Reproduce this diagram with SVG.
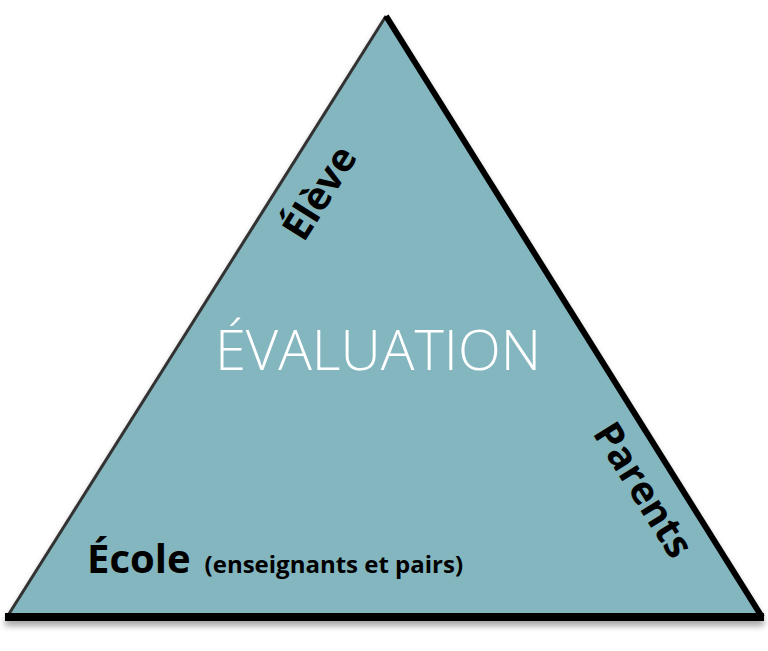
<svg xmlns="http://www.w3.org/2000/svg" width="768" height="651" viewBox="0 0 768 651">
<defs>
<filter id="sh" x="-5%" y="-5%" width="110%" height="115%"><feGaussianBlur in="SourceAlpha" stdDeviation="3"/><feOffset dx="0" dy="5"/><feComponentTransfer><feFuncA type="linear" slope="0.35"/></feComponentTransfer><feMerge><feMergeNode/><feMergeNode in="SourceGraphic"/></feMerge></filter>
</defs>
<style>
.lbl{font-family:"Open Sans","Noto Sans","DejaVu Sans",sans-serif;font-weight:bold;fill:#000}
.main{font-family:"Open Sans","Noto Sans",sans-serif;font-weight:300;fill:#fff}
</style>
<rect width="768" height="651" fill="#fff"/>
<g id="triangle" filter="url(#sh)">
<polygon points="386,16 7,617 762,617" fill="#84b6bf"/>
<line x1="386" y1="16" x2="7" y2="617" stroke="#333" stroke-width="3"/>
<line x1="386" y1="16" x2="762" y2="617" stroke="#000" stroke-width="6"/>
<line x1="5" y1="617" x2="764" y2="617" stroke="#000" stroke-width="8"/>
</g>
<g id="eval"><text class="main" x="378" y="370" font-size="56" text-anchor="middle">ÉVALUATION</text></g>
<g id="eleve"><text class="lbl" font-size="39" text-anchor="middle" transform="translate(331,200) rotate(-57.8)">Élève</text></g>
<g id="parents"><text class="lbl" font-size="39" text-anchor="middle" transform="translate(632,497) rotate(58)">Parents</text></g>
<g id="ecole"><text class="lbl" x="87" y="573"><tspan font-size="40">École</tspan><tspan font-size="24" dx="14">(enseignants et pairs)</tspan></text></g>
</svg>
